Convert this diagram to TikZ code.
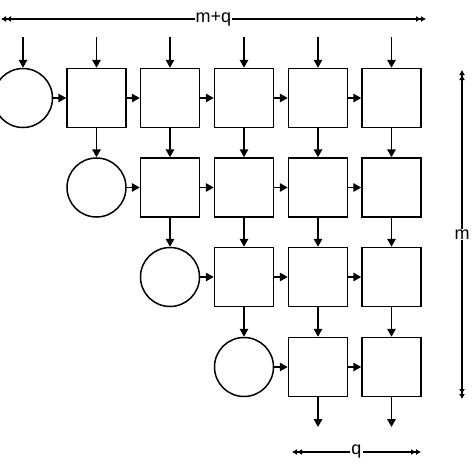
\documentclass[tikz,border=0pt]{standalone}
\usepackage{fontspec}
\setmainfont{Liberation Sans}
\usetikzlibrary{arrows.meta}
\tikzset{
  box/.style={draw, line width=1.5pt, minimum size=59pt, inner sep=0pt},
  circ/.style={draw, circle, line width=1.5pt, minimum size=59pt, inner sep=0pt},
  flow/.style={line width=1.5pt, -{Triangle[length=8pt,width=8.5pt]}},
  dtip/.tip={Latex[length=5pt,width=6pt] Latex[length=5pt,width=6pt]},
  dimarr/.style={line width=1.5pt, dtip-dtip},
  dimlab/.style={fill=white, inner sep=1pt, font=\fontsize{18}{19}\selectfont}
}
\begin{document}
\begin{tikzpicture}[x=1pt,y=-1pt]
\useasboundingbox (0,0) rectangle (474,474);
\def\cx{{23,96.5,170,244,318,391.5}}
\def\ry{{0,98,187.5,277,367}}
% circles: circle of row r sits in column r-1
\foreach \r in {1,...,4}{
  \pgfmathsetmacro\xx{\cx[\r-1]}
  \pgfmathsetmacro\yy{\ry[\r]}
  \node[circ] (n-\r-\r) at (\xx,\yy) {};
}
% boxes
\foreach \r/\cs in {1/{1,2,3,4,5},2/{2,3,4,5},3/{3,4,5},4/{4,5}}{
  \foreach \c in \cs {
    \pgfmathsetmacro\xx{\cx[\c]}
    \pgfmathsetmacro\yy{\ry[\r]}
    \node[box] (b-\r-\c) at (\xx,\yy) {};
  }
}
% top inputs
\foreach \c in {0,...,5}{
  \pgfmathsetmacro\xx{\cx[\c]}
  \coordinate (in-\c) at (\xx,37);
}
\draw[flow] (in-0) -- (n-1-1.north);
\foreach \c in {1,...,5}{ \draw[flow] (in-\c) -- (b-1-\c.north); }
% horizontal arrows
\draw[flow] (n-1-1) -- (b-1-1);
\foreach \c [evaluate=\c as \d using int(\c+1)] in {1,...,4}{ \draw[flow] (b-1-\c) -- (b-1-\d); }
\draw[flow] (n-2-2) -- (b-2-2);
\foreach \c [evaluate=\c as \d using int(\c+1)] in {2,...,4}{ \draw[flow] (b-2-\c) -- (b-2-\d); }
\draw[flow] (n-3-3) -- (b-3-3);
\foreach \c [evaluate=\c as \d using int(\c+1)] in {3,4}{ \draw[flow] (b-3-\c) -- (b-3-\d); }
\draw[flow] (n-4-4) -- (b-4-4);
\draw[flow] (b-4-4) -- (b-4-5);
% vertical arrows
\draw[flow] (b-1-1) -- (n-2-2);
\foreach \c in {2,...,5}{ \draw[flow] (b-1-\c) -- (b-2-\c); }
\draw[flow] (b-2-2) -- (n-3-3);
\foreach \c in {3,4,5}{ \draw[flow] (b-2-\c) -- (b-3-\c); }
\draw[flow] (b-3-3) -- (n-4-4);
\foreach \c in {4,5}{ \draw[flow] (b-3-\c) -- (b-4-\c); }
% outputs
\foreach \c in {4,5}{
  \pgfmathsetmacro\xx{\cx[\c]}
  \coordinate (out-\c) at (\xx,427);
  \draw[flow] (b-4-\c) -- (out-\c);
}
% dimensions
\coordinate (t1) at (1,19); \coordinate (t2) at (426,19);
\draw[dimarr] (t1) -- node[dimlab] (lmq) {m+q} (t2);
\coordinate (r1) at (462,70); \coordinate (r2) at (462,399);
\draw[dimarr] (r1) -- node[dimlab] (lm) {m} (r2);
\coordinate (q1) at (292,452); \coordinate (q2) at (421,452);
\draw[dimarr] (q1) -- node[dimlab] (lq) {q} (q2);
\end{tikzpicture}
\end{document}
